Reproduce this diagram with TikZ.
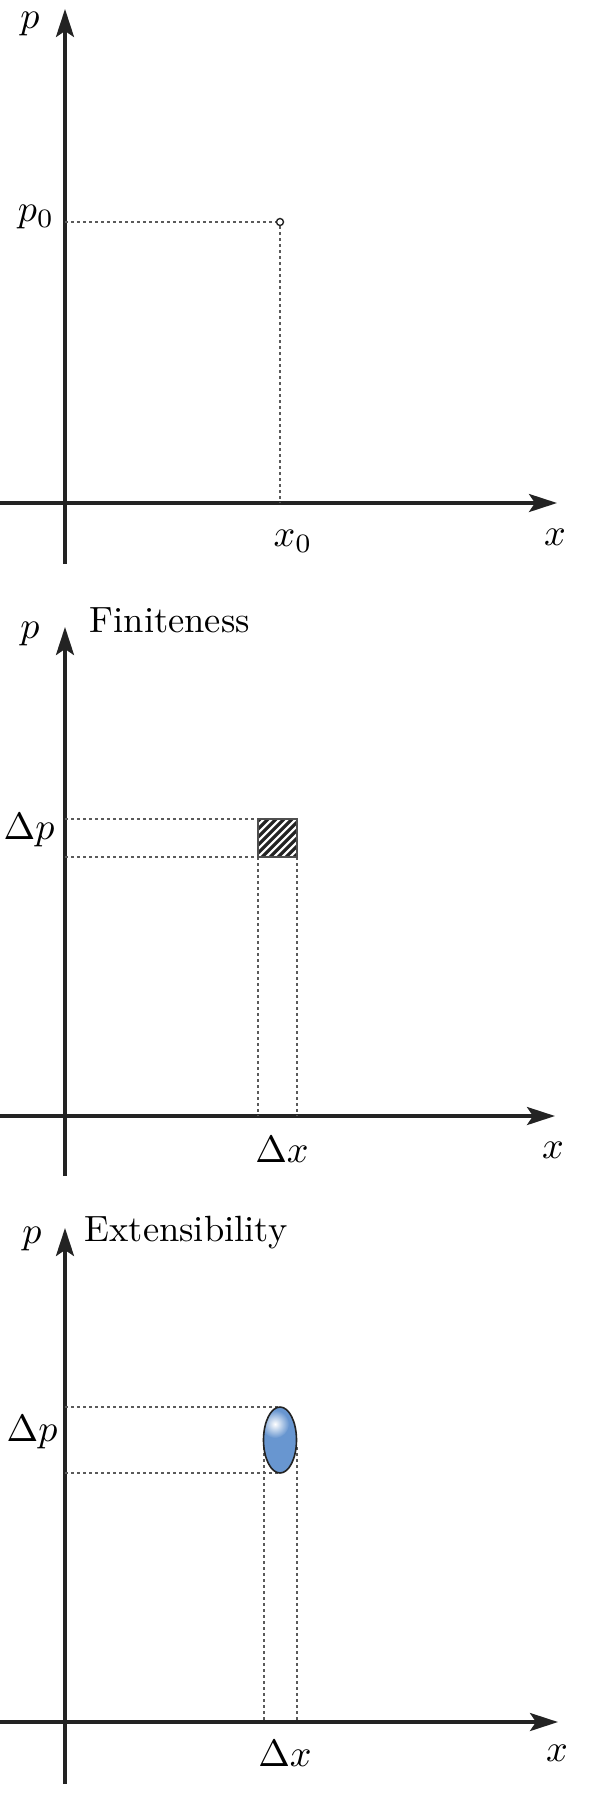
\documentclass[tikz,border=0pt]{standalone}
\usetikzlibrary{arrows.meta,shapes.geometric}
\definecolor{axiscol}{RGB}{35,35,35}
\definecolor{dotcol}{RGB}{90,90,90}
\definecolor{ballblue}{RGB}{104,150,208}
\begin{document}
\begin{tikzpicture}[x=1pt,y=-1pt,
  axis/.style={line width=3.5pt,color=axiscol,-{Stealth[length=28pt,width=18pt,inset=6pt]}},
  guide/.style={line width=1.6pt,color=dotcol,dash pattern=on 3pt off 3pt},
  lbl/.style={inner sep=0pt,scale=3.8},
  ttl/.style={inner sep=0pt,scale=3.65,anchor=west}]
\useasboundingbox (0,0) rectangle (600,1799);
% ---------- panel 1 ----------
\coordinate (y1b) at (65,564); \coordinate (y1t) at (65,9);
\coordinate (x1l) at (0,503); \coordinate (x1r) at (557,503);
\coordinate (p1h) at (65,222); \coordinate (x1h) at (280,503);
\draw[axis] (x1l) -- (x1r);
\draw[axis] (y1b) -- (y1t);
\node[circle,draw=axiscol,fill=white,line width=1.4pt,minimum size=7pt,inner sep=0pt] (pt) at (280,222) {};
\draw[guide] (p1h) -- (pt.west);
\draw[guide] (pt.south) -- (x1h);
\node[lbl] (lp1) at (30,24) {$p$};
\node[lbl] (lp0) at (36,217) {$p_0$};
\node[lbl] (lx0) at (293,541) {$x_0$};
\node[lbl] (lx1) at (555,537) {$x$};
% ---------- panel 2 ----------
\coordinate (y2b) at (65,1176); \coordinate (y2t) at (65,627);
\coordinate (x2l) at (0,1116); \coordinate (x2r) at (555,1116);
\coordinate (s2tl) at (258,819); \coordinate (s2br) at (297,857);
\coordinate (g2a) at (65,819); \coordinate (g2b) at (65,857);
\coordinate (g2c) at (258,857); \coordinate (g2d) at (297,857);
\coordinate (g2e) at (258,1116); \coordinate (g2f) at (297,1116);
\coordinate (g2g) at (258,819);
\draw[axis] (x2l) -- (x2r);
\draw[axis] (y2b) -- (y2t);
\draw[guide] (g2a) -- (g2g);
\draw[guide] (g2b) -- (g2c);
\draw[guide] (g2c) -- (g2e);
\draw[guide] (g2d) -- (g2f);
\begin{scope}
  \clip (s2tl) rectangle (s2br);
  \fill[white] (s2tl) rectangle (s2br);
  \foreach \k in {-60,-52,...,60} {
    \draw[line width=3.2pt,color=axiscol] (258+\k,857) -- (298+\k,817);
  }
\end{scope}
\draw[line width=1.5pt,color=axiscol!80] (s2tl) rectangle (s2br);
\node[ttl] (tfin) at (89,620) {Finiteness};
\node[lbl] (lp2) at (30,634) {$p$};
\node[lbl] (ldp2) at (29,830) {$\Delta p$};
\node[lbl] (ldx2) at (282,1150) {$\Delta x$};
\node[lbl] (lx2) at (553,1150) {$x$};
% ---------- panel 3 ----------
\coordinate (y3b) at (65,1784); \coordinate (y3t) at (65,1228);
\coordinate (x3l) at (0,1722); \coordinate (x3r) at (558,1722);
\coordinate (g3a) at (65,1407); \coordinate (g3b) at (65,1473);
\coordinate (g3c) at (281,1407); \coordinate (g3d) at (281,1473);
\coordinate (g3e) at (264,1447); \coordinate (g3f) at (297,1447);
\coordinate (g3g) at (264,1722); \coordinate (g3h) at (297,1722);
\draw[axis] (x3l) -- (x3r);
\draw[axis] (y3b) -- (y3t);
\draw[guide] (g3a) -- (g3c);
\draw[guide] (g3b) -- (g3d);
\draw[guide] (g3e) -- (g3g);
\draw[guide] (g3f) -- (g3h);
\fill[ballblue] (280,1440) ellipse [x radius=16.5pt, y radius=33pt];
\begin{scope}
  \clip (280,1440) ellipse [x radius=16.5pt, y radius=33pt];
  \shade[inner color=white, outer color=ballblue] (275,1424) circle [radius=14pt];
\end{scope}
\node[draw=axiscol,line width=1.6pt,ellipse,minimum width=33pt,minimum height=66pt,inner sep=0pt] (ball) at (280,1440) {};
\node[ttl] (text) at (84,1233) {Extensibility};
\node[lbl] (lp3) at (32,1239) {$p$};
\node[lbl] (ldp3) at (32,1432) {$\Delta p$};
\node[lbl] (ldx3) at (285,1753) {$\Delta x$};
\node[lbl] (lx3) at (557,1753) {$x$};
\end{tikzpicture}
\end{document}
